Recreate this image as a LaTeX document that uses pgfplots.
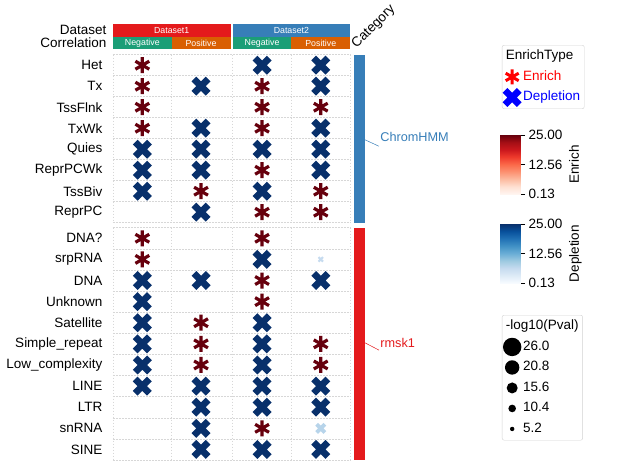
\documentclass[border=0pt]{standalone}
\usepackage{fontspec}
\setmainfont{Liberation Sans}
\usepackage{pgfplots}
\pgfplotsset{compat=1.18}

\definecolor{enrichc}{RGB}{103,0,13}
\definecolor{deplc}{RGB}{8,48,107}
\definecolor{lightA}{RGB}{198,219,239}
\definecolor{lightB}{RGB}{183,212,234}
\definecolor{setred}{RGB}{228,26,28}
\definecolor{setblue}{RGB}{55,126,184}
\definecolor{dkgreen}{RGB}{27,158,119}
\definecolor{dkorange}{RGB}{217,95,2}
\definecolor{gridc}{RGB}{215,215,215}

% filled X marker (like matplotlib "X")
\pgfdeclareplotmark{Xfill}{%
  \pgfpathmoveto{\pgfqpoint{-0.5\pgfplotmarksize}{-\pgfplotmarksize}}%
  \pgfpathlineto{\pgfqpoint{0pt}{-0.5\pgfplotmarksize}}%
  \pgfpathlineto{\pgfqpoint{0.5\pgfplotmarksize}{-\pgfplotmarksize}}%
  \pgfpathlineto{\pgfqpoint{\pgfplotmarksize}{-0.5\pgfplotmarksize}}%
  \pgfpathlineto{\pgfqpoint{0.5\pgfplotmarksize}{0pt}}%
  \pgfpathlineto{\pgfqpoint{\pgfplotmarksize}{0.5\pgfplotmarksize}}%
  \pgfpathlineto{\pgfqpoint{0.5\pgfplotmarksize}{\pgfplotmarksize}}%
  \pgfpathlineto{\pgfqpoint{0pt}{0.5\pgfplotmarksize}}%
  \pgfpathlineto{\pgfqpoint{-0.5\pgfplotmarksize}{\pgfplotmarksize}}%
  \pgfpathlineto{\pgfqpoint{-\pgfplotmarksize}{0.5\pgfplotmarksize}}%
  \pgfpathlineto{\pgfqpoint{-0.5\pgfplotmarksize}{0pt}}%
  \pgfpathlineto{\pgfqpoint{-\pgfplotmarksize}{-0.5\pgfplotmarksize}}%
  \pgfpathclose
  \pgfusepathqfill
}

\pgfplotsset{
  colormap={reds}{rgb255=(255,245,240) rgb255=(254,224,210) rgb255=(252,187,161)
    rgb255=(252,146,114) rgb255=(251,106,74) rgb255=(239,59,44) rgb255=(203,24,29)
    rgb255=(165,15,21) rgb255=(103,0,13)},
  colormap={blues}{rgb255=(247,251,255) rgb255=(222,235,247) rgb255=(198,219,239)
    rgb255=(158,202,225) rgb255=(107,174,214) rgb255=(66,146,198) rgb255=(33,113,181)
    rgb255=(8,81,156) rgb255=(8,48,107)},
  panel/.style={
    scale only axis, width=237.1pt, clip=false,
    xmin=0, xmax=4.04, y dir=reverse,
    axis line style={draw=none}, major tick length=0pt,
    xtick=\empty,
    extra x ticks={0,1,2.04,3.04,4.04}, extra x tick labels={},
    extra x tick style={grid=major},
    extra y tick labels={}, extra y tick style={grid=major},
    major grid style={gridc, dash pattern=on 1.6pt off 1.4pt, line width=0.5pt},
    yticklabel style={font=\fontsize{13.5}{16}\selectfont, inner sep=0pt, xshift=-10.5pt},
    legend cell align=left,
    legend style={draw=gray!35, rounded corners=2pt, fill=white,
      font=\fontsize{13.5}{15}\selectfont, inner xsep=3pt, inner ysep=4pt,
      row sep=6pt, /tikz/every even column/.append style={column sep=3.3pt},
      nodes={inner sep=1pt, text height=9.5pt, text depth=3pt}},
  },
  enr/.style={only marks, forget plot, mark=asterisk, mark size=8pt, enrichc, line width=3.2pt},
  dep/.style={only marks, forget plot, mark=Xfill, mark size=9.5pt, deplc, mark options={fill=deplc}},
  cbar/.style={
    scale only axis, width=20pt, height=59pt,
    xmin=0, xmax=1, ymin=0.13, ymax=25, enlargelimits=false,
    xtick=\empty, ytick={0.13,12.56,25},
    yticklabel pos=right, ytick pos=right, tick align=outside,
    major tick length=5pt, tick style={black, line width=0.8pt},
    axis line style={line width=0.8pt},
    tick label style={font=\fontsize{13.5}{16}\selectfont},
    y tick label style={/pgf/number format/fixed, /pgf/number format/fixed zerofill,
      /pgf/number format/precision=2, /pgf/number format/assume math mode=true},
    label style={font=\fontsize{13.5}{16}\selectfont},
  },
}
\newcommand{\hdr}{\fontsize{8.8}{10}\selectfont\color{white}}
\newcommand{\lab}{\fontsize{13.5}{16}\selectfont}
\newcommand{\catlab}{\fontsize{12.7}{15}\selectfont}
\newcommand{\legbox}{\path[draw=none, fill=none] (0pt,-4pt) rectangle (17pt,4pt);}

\begin{document}
\begin{tikzpicture}
\path[use as bounding box] (0pt,0pt) rectangle (625pt,-469pt);

% ---------------- top panel: ChromHMM
\begin{axis}[panel, at={(113pt,-54.7pt)}, anchor=north west, height=168pt,
  ymin=0.5, ymax=8.5,
  ytick={1,...,8}, yticklabels={Het,Tx,TssFlnk,TxWk,Quies,ReprPCWk,TssBiv,ReprPC},
  extra y ticks={0.5,1.5,...,8.5},
  legend style={at={(1.6406,1.0577)}, anchor=north west},
]
% header bands
\fill[setred] (axis cs:0,-0.962) rectangle (axis cs:2.005,-0.362);
\fill[setblue] (axis cs:2.04,-0.962) rectangle (axis cs:4.04,-0.362);
\fill[dkgreen] (axis cs:0,-0.362) rectangle (axis cs:1,0.243);
\fill[dkorange] (axis cs:1,-0.362) rectangle (axis cs:2.005,0.243);
\fill[dkgreen] (axis cs:2.04,-0.362) rectangle (axis cs:3.04,0.243);
\fill[dkorange] (axis cs:3.04,-0.362) rectangle (axis cs:4.04,0.243);
\node[font=\hdr] at (axis cs:1.0,-0.662) {Dataset1};
\node[font=\hdr] at (axis cs:3.04,-0.662) {Dataset2};
\node[font=\hdr] at (axis cs:0.5,-0.06) {Negative};
\node[font=\hdr] at (axis cs:1.5,-0.06) {Positive};
\node[font=\hdr] at (axis cs:2.54,-0.06) {Negative};
\node[font=\hdr] at (axis cs:3.54,-0.06) {Positive};
\node[font=\lab, anchor=east, inner sep=0pt, xshift=-6.3pt] at (axis cs:0,-0.662) {Dataset};
\node[font=\lab, anchor=east, inner sep=0pt, xshift=-6.3pt] at (axis cs:0,-0.06) {Correlation};
\coordinate (catpos) at (axis cs:4.15,0.22);
% category bar
\fill[setblue] (axis cs:4.106,0.5) rectangle (axis cs:4.293,8.5);
\draw[setblue, line width=0.5pt] (axis cs:4.293,4.55) -- ++(14pt,-6.5pt)
  node[anchor=base west, inner sep=1.2pt, yshift=5pt, font=\catlab, text=setblue] {ChromHMM};

\addplot[enr] coordinates {
(0.5,1) (0.5,2) (2.54,2) (0.5,3) (2.54,3) (3.54,3) (0.5,4) (2.54,4)
(2.54,6) (1.5,7) (3.54,7) (2.54,8) (3.54,8)};
\addplot[dep] coordinates {
(2.54,1) (3.54,1) (1.5,2) (3.54,2) (1.5,4) (3.54,4) (0.5,5) (1.5,5) (2.54,5) (3.54,5)
(0.5,6) (1.5,6) (3.54,6) (0.5,7) (2.54,7) (1.5,8)};

% EnrichType legend
\addlegendimage{legend image code/.code={\legbox}}
\addlegendentry{\hspace*{-17.3pt}EnrichType}
\addlegendimage{legend image code/.code={\legbox
  \draw[overlay, red, fill=none, line width=3pt, mark size=7.5pt] plot[mark=asterisk] coordinates {(7pt,0pt)};}}
\addlegendentry{\textcolor{red}{Enrich}}
\addlegendimage{legend image code/.code={\legbox
  \draw[overlay, blue, draw=none, fill=blue] plot[mark=Xfill, mark size=9.5pt] coordinates {(7pt,0pt)};}}
\addlegendentry{\textcolor{blue}{Depletion}}
\end{axis}
\node[font=\lab, rotate=45, anchor=base west, inner sep=0pt] at (catpos) {Category};

% ---------------- bottom panel: rmsk1
\begin{axis}[panel, at={(113pt,-227.7pt)}, anchor=north west, height=232.3pt,
  ymin=0.5, ymax=11.5,
  ytick={1,...,11},
  yticklabels={DNA?,srpRNA,DNA,Unknown,Satellite,Simple\_repeat,Low\_complexity,LINE,LTR,snRNA,SINE},
  extra y ticks={0.5,1.5,...,11.5},
  legend style={at={(1.6406,0.6242)}, anchor=north west},
]
\fill[setred] (axis cs:4.106,0.5) rectangle (axis cs:4.293,11.5);
\draw[setred, line width=0.5pt] (axis cs:4.293,5.95) -- ++(14pt,-7.3pt)
  node[anchor=base west, inner sep=1.2pt, yshift=2.7pt, font=\catlab, text=setred] {rmsk1};

\addplot[enr] coordinates {
(0.5,1) (2.54,1) (0.5,2) (2.54,3) (2.54,4) (1.5,5) (1.5,6) (3.54,6)
(1.5,7) (3.54,7) (2.54,10)};
\addplot[dep] coordinates {
(2.54,2) (0.5,3) (1.5,3) (3.54,3) (0.5,4) (0.5,5) (2.54,5) (0.5,6) (2.54,6)
(0.5,7) (2.54,7) (0.5,8) (1.5,8) (2.54,8) (3.54,8) (1.5,9) (2.54,9) (3.54,9)
(1.5,10) (1.5,11) (2.54,11) (3.54,11)};
\addplot[only marks, forget plot, mark=Xfill, mark size=3pt, lightA, mark options={fill=lightA}]
  coordinates {(3.54,2)};
\addplot[only marks, forget plot, mark=Xfill, mark size=5.5pt, lightB, mark options={fill=lightB}]
  coordinates {(3.54,10)};

% -log10(Pval) legend
\addlegendimage{legend image code/.code={\legbox}}
\addlegendentry{\hspace*{-17.3pt}-log10(Pval)}
\addlegendimage{legend image code/.code={\legbox
  \path[overlay, draw=none, fill=black] (7pt,0pt) circle (9.2pt);}}
\addlegendentry{26.0}
\addlegendimage{legend image code/.code={\legbox
  \path[overlay, draw=none, fill=black] (7pt,0pt) circle (7.2pt);}}
\addlegendentry{20.8}
\addlegendimage{legend image code/.code={\legbox
  \path[overlay, draw=none, fill=black] (7pt,0pt) circle (5.5pt);}}
\addlegendentry{15.6}
\addlegendimage{legend image code/.code={\legbox
  \path[overlay, draw=none, fill=black] (7pt,0pt) circle (3.8pt);}}
\addlegendentry{10.4}
\addlegendimage{legend image code/.code={\legbox
  \path[overlay, draw=none, fill=black] (7pt,0pt) circle (2.2pt);}}
\addlegendentry{5.2}
\end{axis}

% ---------------- colour bars
\begin{axis}[cbar, at={(500pt,-135pt)}, anchor=north west, ylabel={Enrich}]
\addplot[patch, shader=interp, colormap name=reds, point meta=explicit] coordinates {
(0,0.13) [0.13] (1,0.13) [0.13] (1,25) [25]
(0,0.13) [0.13] (1,25) [25] (0,25) [25]};
\end{axis}
\begin{axis}[cbar, at={(500pt,-224pt)}, anchor=north west, ylabel={Depletion}]
\addplot[patch, shader=interp, colormap name=blues, point meta=explicit] coordinates {
(0,0.13) [0.13] (1,0.13) [0.13] (1,25) [25]
(0,0.13) [0.13] (1,25) [25] (0,25) [25]};
\end{axis}
\end{tikzpicture}
\end{document}
